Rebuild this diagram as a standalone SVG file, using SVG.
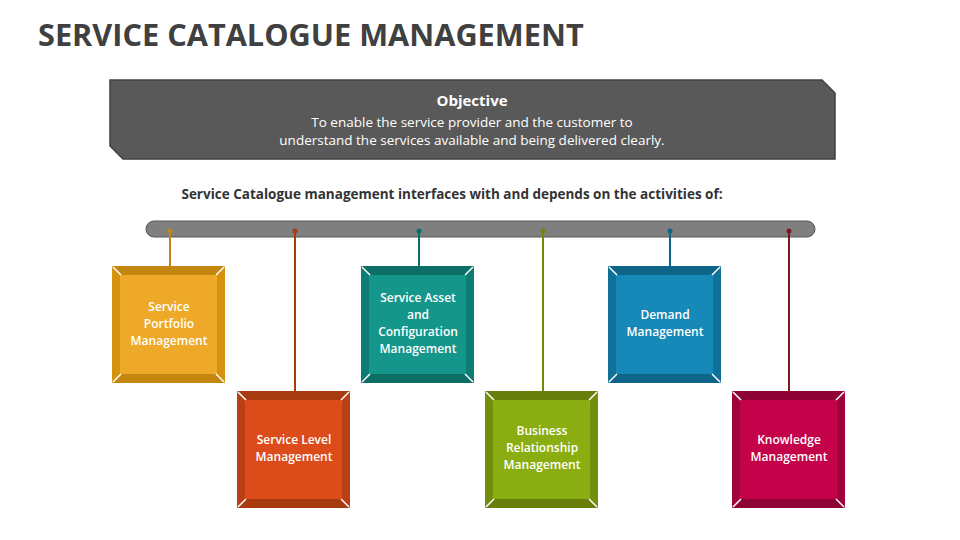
<svg xmlns="http://www.w3.org/2000/svg" width="960" height="540" viewBox="0 0 960 540">
<defs>
<style>
text{font-family:"Open Sans","Liberation Sans",sans-serif;font-weight:bold}
.t{fill:#fff;font-size:12px;text-anchor:middle;font-weight:600}
.ln{stroke-width:2;fill:none}
</style>
<g id="bev">
<polygon points="0,0 113,0 104,9 9,9" fill="var(--d)"/>
<polygon points="0,117 113,117 104,108 9,108" fill="var(--d)"/>
<polygon points="0,0 9,9 9,108 0,117" fill="var(--m)"/>
<polygon points="113,0 104,9 104,108 113,117" fill="var(--m)"/>
<rect x="8" y="9" width="97" height="99" fill="var(--f)"/>
<path d="M1,1 L9,9 M112,1 L104,9 M1,116 L9,108 M112,116 L104,108" stroke="#fff" stroke-width="1.5"/>
</g>
</defs>
<rect width="960" height="540" fill="#fff"/>
<text x="38" y="46" style="font-size:30.7px;fill:#404040">SERVICE CATALOGUE MANAGEMENT</text>
<g id="objective">
<polygon points="110,80 822,80 835,93 835,159 123,159 110,146" fill="#595959" stroke="#404040" stroke-width="1.5"/>
<text x="472" y="106" class="t" style="font-size:15px;font-weight:bold">Objective</text>
<text x="472" y="127" class="t" style="font-size:13.5px;font-weight:normal">To enable the service provider and the customer to</text>
<text x="472" y="145" class="t" style="font-size:13.5px;font-weight:normal">understand the services available and being delivered clearly.</text>
</g>
<text x="452" y="199" style="font-size:13.5px;fill:#333;text-anchor:middle">Service Catalogue management interfaces with and depends on the activities of:</text>
<g id="bar"><rect x="146" y="221" width="669" height="16" rx="8" fill="#7f7f7f" stroke="#595959"/></g>
<g id="connectors">
<path class="ln" stroke="#C4860F" d="M170,266V231"/><circle cx="170" cy="231" r="2.5" fill="#C4860F"/>
<path class="ln" stroke="#A83A10" d="M295,391V231"/><circle cx="295" cy="231" r="2.5" fill="#A83A10"/>
<path class="ln" stroke="#0B6F66" d="M419,266V231"/><circle cx="419" cy="231" r="2.5" fill="#0B6F66"/>
<path class="ln" stroke="#6E8A0C" d="M543,391V231"/><circle cx="543" cy="231" r="2.5" fill="#6E8A0C"/>
<path class="ln" stroke="#0E6588" d="M670,266V231"/><circle cx="670" cy="231" r="2.5" fill="#0E6588"/>
<path class="ln" stroke="#7A1A20" d="M789,391V231"/><circle cx="789" cy="231" r="2.5" fill="#7A1A20"/>
</g>
<g id="n1" transform="translate(112,266)" style="--d:#C4860F;--m:#D4920F;--f:#EEA928"><use href="#bev"/>
<text class="t" x="57" y="45">Service</text><text class="t" x="57" y="62">Portfolio</text><text class="t" x="57" y="79">Management</text></g>
<g id="n2" transform="translate(237,391)" style="--d:#A83A10;--m:#B94014;--f:#DC4B1A"><use href="#bev"/>
<text class="t" x="57" y="53">Service Level</text><text class="t" x="57" y="70">Management</text></g>
<g id="n3" transform="translate(361,266)" style="--d:#0B6F66;--m:#0D7D73;--f:#14968A"><use href="#bev"/>
<text class="t" x="57" y="36">Service Asset</text><text class="t" x="57" y="53">and</text><text class="t" x="57" y="70">Configuration</text><text class="t" x="57" y="87">Management</text></g>
<g id="n4" transform="translate(485,391)" style="--d:#677F0A;--m:#738E0C;--f:#8AAE12"><use href="#bev"/>
<text class="t" x="57" y="44">Business</text><text class="t" x="57" y="61">Relationship</text><text class="t" x="57" y="78">Management</text></g>
<g id="n5" transform="translate(608,266)" style="--d:#0E6588;--m:#107198;--f:#1689B8"><use href="#bev"/>
<text class="t" x="57" y="53">Demand</text><text class="t" x="57" y="70">Management</text></g>
<g id="n6" transform="translate(732,391)" style="--d:#8E0235;--m:#A0023C;--f:#C4024A"><use href="#bev"/>
<text class="t" x="57" y="53">Knowledge</text><text class="t" x="57" y="70">Management</text></g>
</svg>
